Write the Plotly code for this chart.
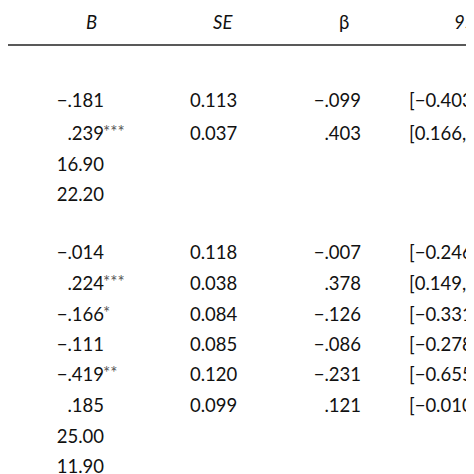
import plotly.graph_objects as go

headers = ["B", "SE", "β", "95% CI"]
b_vals = ["−.181", ".239", "16.90", "22.20", "−.014", ".224", "−.166", "−.111", "−.419", ".185", "25.00", "11.90"]
b_stars = ["", "***", "", "", "", "***", "*", "", "**", "", "", ""]
se_vals = ["0.113", "0.037", "", "", "0.118", "0.038", "0.084", "0.085", "0.120", "0.099", "", ""]
beta_vals = ["−.099", ".403", "", "", "−.007", ".378", "−.126", "−.086", "−.231", ".121", "", ""]
ci_vals = ["[−0.403, 0.041]", "[0.166, 0.312]", "", "", "[−0.246, 0.218]", "[0.149, 0.299]",
           "[−0.331, −0.001]", "[−0.278, 0.056]", "[−0.655, −0.183]", "[−0.010, 0.380]", "", ""]

# layout (pixel positions)
row_y = [94, 127, 158, 188, 246, 277, 308, 338, 368, 399, 430, 460]
font = dict(family="Lato, Open Sans, sans-serif", size=18.5, color="#111")

fig = go.Figure()
fig.add_trace(go.Scatter(x=[96]*len(b_vals), y=row_y, text=b_vals, mode="text",
                         textposition="middle left", textfont=font))
fig.add_trace(go.Scatter(x=[95]*len(b_stars), y=[y - 1 for y in row_y], text=b_stars, mode="text",
                         textposition="middle right", textfont=dict(family=font["family"], size=17, color="#555")))
fig.add_trace(go.Scatter(x=[182]*len(se_vals), y=row_y, text=se_vals, mode="text",
                         textposition="middle right", textfont=font))
fig.add_trace(go.Scatter(x=[353]*len(beta_vals), y=row_y, text=beta_vals, mode="text",
                         textposition="middle left", textfont=font))
fig.add_trace(go.Scatter(x=[401]*len(ci_vals), y=row_y, text=ci_vals, mode="text",
                         textposition="middle right", textfont=font))

hx = [83, 215, 336, 474]
for h, x in zip(headers, hx):
    fig.add_annotation(x=x, y=14, text=h if h == "β" else f"<i>{h}</i>", showarrow=False,
                       xanchor="center", yanchor="middle", font=font)
fig.add_shape(type="line", x0=0, x1=474, y0=37, y1=37, line=dict(color="#222", width=1.5))

fig.update_layout(width=474, height=474, margin=dict(l=0, r=0, t=0, b=0),
                  plot_bgcolor="white", paper_bgcolor="white", showlegend=False,
                  xaxis=dict(range=[0, 474], visible=False, fixedrange=True),
                  yaxis=dict(range=[474, 0], visible=False, fixedrange=True))
fig.write_html("out.html")
